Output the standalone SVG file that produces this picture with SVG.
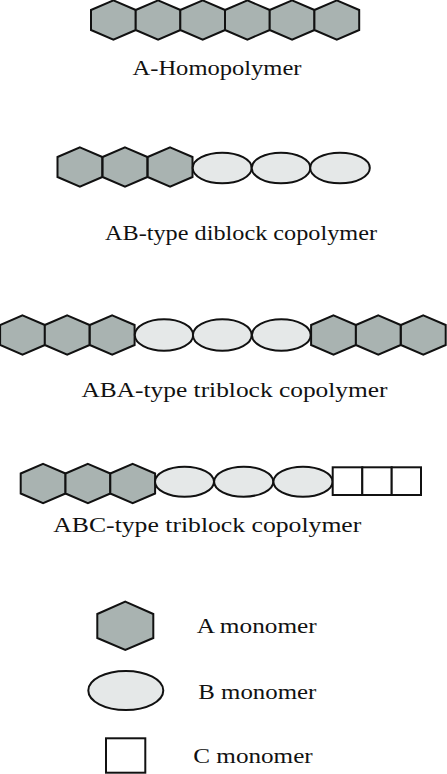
<svg xmlns="http://www.w3.org/2000/svg" xmlns:xlink="http://www.w3.org/1999/xlink" width="447" height="774" viewBox="0 0 447 774">
  <style>
    .a { fill: #a9b3b1; stroke: #111; stroke-width: 2; stroke-linejoin: miter; }
    .b { fill: #e5e8e8; stroke: #111; stroke-width: 2; }
    .c { fill: #ffffff; stroke: #111; stroke-width: 2; }
    .t { font-family: "Liberation Serif", "Times New Roman", serif; font-size: 22px; fill: #111; }
  </style>
  <defs>
    <polygon id="hex" points="0,-19.6 22.4,-10 22.4,10 0,19.6 -22.4,10 -22.4,-10"/>
  </defs>
  <rect width="447" height="774" fill="#ffffff"/>

  <g id="homopolymer">
    <use xlink:href="#hex" class="a" x="113.4" y="20"/>
    <use xlink:href="#hex" class="a" x="158.1" y="20"/>
    <use xlink:href="#hex" class="a" x="202.7" y="20"/>
    <use xlink:href="#hex" class="a" x="247.4" y="20"/>
    <use xlink:href="#hex" class="a" x="292.1" y="20"/>
    <use xlink:href="#hex" class="a" x="336.8" y="20"/>
    <text class="t" x="132.5" y="74.5" textLength="169" lengthAdjust="spacingAndGlyphs">A-Homopolymer</text>
  </g>

  <g id="diblock">
    <use xlink:href="#hex" class="a" x="79.9" y="167"/>
    <use xlink:href="#hex" class="a" x="125" y="167"/>
    <use xlink:href="#hex" class="a" x="170.1" y="167"/>
    <ellipse class="b" cx="222.2" cy="168" rx="29.5" ry="15.3"/>
    <ellipse class="b" cx="281" cy="168" rx="29.3" ry="15.3"/>
    <ellipse class="b" cx="340" cy="168" rx="29.8" ry="15.3"/>
    <text class="t" x="105" y="240" textLength="272" lengthAdjust="spacingAndGlyphs">AB-type diblock copolymer</text>
  </g>

  <g id="aba-triblock">
    <use xlink:href="#hex" class="a" x="22.5" y="335"/>
    <use xlink:href="#hex" class="a" x="67.2" y="335"/>
    <use xlink:href="#hex" class="a" x="112.2" y="335"/>
    <ellipse class="b" cx="164" cy="335" rx="29.2" ry="15.7"/>
    <ellipse class="b" cx="222.3" cy="335" rx="29.4" ry="15.7"/>
    <ellipse class="b" cx="281.3" cy="335" rx="29.4" ry="15.7"/>
    <use xlink:href="#hex" class="a" x="333.5" y="335"/>
    <use xlink:href="#hex" class="a" x="378.3" y="335"/>
    <use xlink:href="#hex" class="a" x="423.3" y="335"/>
    <text class="t" x="81.5" y="397" textLength="306" lengthAdjust="spacingAndGlyphs">ABA-type triblock copolymer</text>
  </g>

  <g id="abc-triblock">
    <use xlink:href="#hex" class="a" x="43.1" y="483.5"/>
    <use xlink:href="#hex" class="a" x="87.9" y="483.5"/>
    <use xlink:href="#hex" class="a" x="132.7" y="483.5"/>
    <ellipse class="b" cx="184.5" cy="481.7" rx="29.5" ry="15"/>
    <ellipse class="b" cx="243.7" cy="481.7" rx="29.6" ry="15"/>
    <ellipse class="b" cx="303" cy="481.7" rx="29.6" ry="15"/>
    <rect class="c" x="332.7" y="467.3" width="29.6" height="27.7"/>
    <rect class="c" x="362.3" y="467.3" width="29.4" height="27.7"/>
    <rect class="c" x="391.7" y="467.3" width="29.3" height="27.7"/>
    <text class="t" x="53.3" y="532" textLength="308" lengthAdjust="spacingAndGlyphs">ABC-type triblock copolymer</text>
  </g>

  <g id="legend-a">
    <polygon class="a" points="125.3,601.7 153.3,614 153.3,638 125.3,650 97.3,638 97.3,614"/>
    <text class="t" x="196.7" y="633.3" textLength="120" lengthAdjust="spacingAndGlyphs">A monomer</text>
  </g>
  <g id="legend-b">
    <ellipse class="b" cx="125.8" cy="690.5" rx="37.5" ry="19.5"/>
    <text class="t" x="198.3" y="699.3" textLength="118" lengthAdjust="spacingAndGlyphs">B monomer</text>
  </g>
  <g id="legend-c">
    <rect class="c" x="106" y="738.3" width="39.3" height="34.4"/>
    <text class="t" x="193.3" y="763.3" textLength="119.4" lengthAdjust="spacingAndGlyphs">C monomer</text>
  </g>
</svg>
